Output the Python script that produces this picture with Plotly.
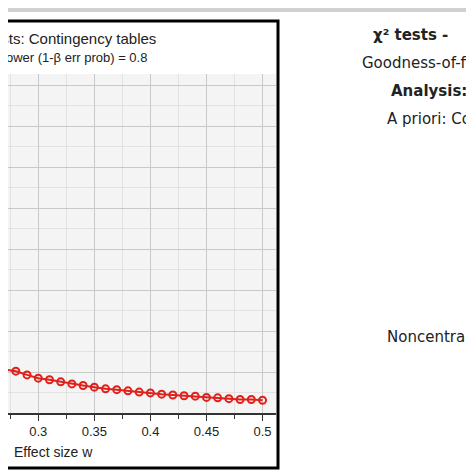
import plotly.graph_objects as go

effect_w = [0.27,0.28,0.29,0.30,0.31,0.32,0.33,0.34,0.35,0.36,0.37,0.38,0.39,0.40,0.41,0.42,0.43,0.44,0.45,0.46,0.47,0.48,0.49,0.50]
total_n = [106,102,93,85,81,76,71,67,63,59,57,54,51,49,46,44,42,41,38,37,35,33,33,31]
x_ticks = [0.3,0.35,0.4,0.45,0.5]

W=H=474
L,R,T,B=0,206,66,69
PW=W-L-R; PH=H-T-B
fig = go.Figure(go.Scatter(x=effect_w, y=total_n, mode="lines+markers",
    line=dict(color="#e0201a", width=2),
    marker=dict(symbol="circle-open", size=7, color="#e0201a", line=dict(width=2)),
    cliponaxis=False))
narrow = "Liberation Sans Narrow, Liberation Sans, sans-serif"
fig.update_layout(width=W, height=H, margin=dict(l=L, r=R, t=T, b=B),
    paper_bgcolor="white", plot_bgcolor="#f4f4f4", showlegend=False,
    font=dict(family=narrow, size=13, color="#222"))
fig.update_xaxes(range=[0.273, 0.512], tickvals=x_ticks, ticks="outside", ticklen=6,
    tickcolor="#333", showline=True, linecolor="#333", linewidth=1.5,
    gridcolor="#c8c8c8", minor=dict(dtick=0.025, tick0=0.275, ticks="outside", ticklen=4, tickcolor="#333", showgrid=True, gridcolor="#e2e2e2"),
    tickfont=dict(size=13), zeroline=False)
fig.update_yaxes(range=[0, 827], dtick=100, showticklabels=False, gridcolor="#c8c8c8",
    minor=dict(dtick=50, showgrid=True, gridcolor="#e2e2e2"), zeroline=False)

def px(x): return (x-L)/PW
def py(y): return (H-B-y)/PH
shapes=[
    dict(type="rect", xref="paper", yref="paper", x0=px(0), x1=px(W+5), y0=py(4), y1=py(-5), fillcolor="#d0d0d0", line_width=0, layer="above"),
    dict(type="rect", xref="paper", yref="paper", x0=px(0), x1=px(W+5), y0=py(H+5), y1=py(467), fillcolor="#d0d0d0", line_width=0, layer="above"),
    dict(type="rect", xref="paper", yref="paper", x0=px(-5), x1=px(270), y0=py(460), y1=py(13), line=dict(color="black", width=3), layer="above"),
]
fig.update_layout(shapes=shapes)
ann=[]
def A(x,y,t,anchor="left",size=13,fam=narrow):
    ann.append(dict(xref="paper",yref="paper",x=px(x),y=py(y),text=t,showarrow=False,
        xanchor=anchor,yanchor="middle",font=dict(size=size,family=fam,color="#222")))
A(150,30,"χ² tests - Goodness-of-fit tests: Contingency tables","right",15)
A(141,49,"Df = 1, α err prob = 0.05, Power (1-β err prob) = 0.8","right",13)
A(4,444,"Effect size w","left",14)
dv="DejaVu Sans, sans-serif"
A(363,27,"<b>χ² tests -</b>","left",15,dv)
A(352,55,"Goodness-of-fit tests: Contingency tables","left",15,dv)
A(381,83,"<b>Analysis:</b>","left",15,dv)
A(377,111,"A priori: Compute required sample size","left",15,dv)
A(377,329,"Noncentrality parameter λ","left",15,dv)
fig.update_layout(annotations=ann)
fig.write_html("out.html")
